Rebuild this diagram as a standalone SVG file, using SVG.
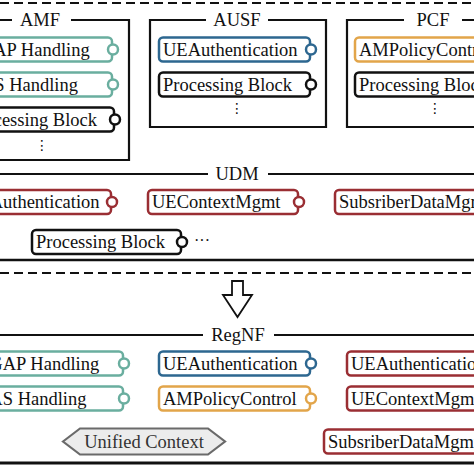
<svg xmlns="http://www.w3.org/2000/svg" width="474" height="474" viewBox="0 0 474 474">
<style>
  .t{font-family:"Liberation Serif","Times New Roman",serif;font-size:18.5px;fill:#111}
  .lbl{font-family:"Liberation Serif","Times New Roman",serif;font-size:18.5px;fill:#111;text-anchor:middle}
  .dots{font-family:"DejaVu Serif","DejaVu Sans",serif;font-size:14px;fill:#111;text-anchor:middle}
  .frame{fill:none;stroke:#111;stroke-width:2.2}
  .dash{fill:none;stroke:#111;stroke-width:2.2;stroke-dasharray:9 5}
  .pill rect{fill:#fff;stroke-width:2.5}
  .pill circle{fill:#fff;stroke-width:2.5}
  .teal rect,.teal circle{stroke:#6aae9f}
  .blue rect,.blue circle{stroke:#2d6790}
  .orange rect,.orange circle{stroke:#e2a54a}
  .red rect,.red circle{stroke:#9a2e33}
  .black rect,.black circle{stroke:#111}
</style>

<g id="frames">
  <line class="dash" x1="0" y1="3" x2="474" y2="3"/>
  <line class="dash" x1="0" y1="273" x2="474" y2="273"/>
  <path class="frame" d="M12,20 H-10 V160 H129 V20 H71"/>
  <path class="frame" d="M206,20 H150 V127 H326 V20 H268"/>
  <path class="frame" d="M404,20 H347 V127 H490 M462,20 H490"/>
  <path class="frame" d="M0,174 H208 M268,174 H474"/>
  <line class="frame" x1="0" y1="260" x2="474" y2="260" style="stroke-width:2.6"/>
  <path class="frame" d="M0,335 H203 M274,335 H474"/>
  <line class="frame" x1="0" y1="463" x2="474" y2="463" style="stroke-width:3"/>
</g>

<g id="labels">
  <text class="lbl" x="40" y="26">AMF</text>
  <text class="lbl" x="237" y="26">AUSF</text>
  <text class="lbl" x="433" y="26">PCF</text>
  <text class="lbl" x="237" y="180">UDM</text>
  <text class="lbl" x="238" y="341">RegNF</text>
</g>

<g id="amf-ngap" class="pill teal"><rect x="-37" y="37.5" width="149" height="24" rx="4"/><circle cx="113" cy="49.5" r="5"/><text class="t" x="-33.5" y="55.5">NGAP Handling</text></g>
<g id="amf-nas" class="pill teal"><rect x="-37" y="72.5" width="149" height="24" rx="4"/><circle cx="113" cy="84.5" r="5"/><text class="t" x="-32.5" y="90.5">NAS Handling</text></g>
<g id="amf-proc" class="pill black"><rect x="-37" y="107.5" width="151" height="24" rx="4"/><circle cx="115" cy="119.5" r="5"/><text class="t" x="-32" y="125.5">Processing Block</text></g>
<g id="amf-dots"><text class="dots" x="42" y="150">⋮</text></g>

<g id="ausf-ueauth" class="pill blue"><rect x="159" y="37.5" width="151" height="24" rx="4"/><circle cx="311" cy="49.5" r="5"/><text class="t" x="163" y="55.5">UEAuthentication</text></g>
<g id="ausf-proc" class="pill black"><rect x="159" y="72.5" width="151" height="24" rx="4"/><circle cx="311" cy="84.5" r="5"/><text class="t" x="163" y="90.5">Processing Block</text></g>
<g id="ausf-dots"><text class="dots" x="237" y="113">⋮</text></g>

<g id="pcf-ampolicy" class="pill orange"><rect x="355" y="37.5" width="160" height="24" rx="4"/><text class="t" x="359" y="55.5">AMPolicyControl</text></g>
<g id="pcf-proc" class="pill black"><rect x="355" y="72.5" width="160" height="24" rx="4"/><text class="t" x="359" y="90.5">Processing Block</text></g>
<g id="pcf-dots"><text class="dots" x="435" y="113">⋮</text></g>

<g id="udm-ueauth" class="pill red"><rect x="-39" y="190" width="150" height="24" rx="4"/><circle cx="112" cy="202" r="5"/><text class="t" x="-35" y="208">UEAuthentication</text></g>
<g id="udm-uectx" class="pill red"><rect x="148" y="190" width="150" height="24" rx="4"/><circle cx="299" cy="202" r="5"/><text class="t" x="152" y="208">UEContextMgmt</text></g>
<g id="udm-subdata" class="pill red"><rect x="335" y="190" width="180" height="24" rx="4"/><text class="t" x="339" y="208">SubsriberDataMgmt</text></g>
<g id="udm-proc" class="pill black"><rect x="32" y="230" width="149" height="24" rx="4"/><circle cx="182" cy="242" r="5"/><text class="t" x="36" y="248">Processing Block</text></g>
<g id="udm-more"><text class="t" x="194" y="246" style="font-size:16px">···</text></g>

<g id="arrow"><polygon points="232,281 243,281 243,295 252,295 237.5,317 223,295 232,295" fill="#fff" stroke="#111" stroke-width="1.8" stroke-linejoin="miter"/></g>

<g id="reg-ngap" class="pill teal"><rect x="-28" y="351.5" width="151" height="24" rx="4"/><circle cx="124" cy="363.5" r="5"/><text class="t" x="-24" y="369.5">NGAP Handling</text></g>
<g id="reg-nas" class="pill teal"><rect x="-28" y="386.5" width="151" height="24" rx="4"/><circle cx="124" cy="398.5" r="5"/><text class="t" x="-24" y="404.5">NAS Handling</text></g>
<g id="reg-ueauth-blue" class="pill blue"><rect x="159" y="351.5" width="151" height="24" rx="4"/><circle cx="311" cy="363.5" r="5"/><text class="t" x="163" y="369.5">UEAuthentication</text></g>
<g id="reg-ampolicy" class="pill orange"><rect x="159" y="386.5" width="151" height="24" rx="4"/><circle cx="311" cy="398.5" r="5"/><text class="t" x="163" y="404.5">AMPolicyControl</text></g>
<g id="reg-ueauth-red" class="pill red"><rect x="347" y="351.5" width="170" height="24" rx="4"/><text class="t" x="351" y="369.5">UEAuthentication</text></g>
<g id="reg-uectx" class="pill red"><rect x="347" y="386.5" width="170" height="24" rx="4"/><text class="t" x="351" y="404.5">UEContextMgmt</text></g>
<g id="reg-subdata" class="pill red"><rect x="324" y="429.5" width="190" height="24" rx="4"/><text class="t" x="328" y="447.5">SubsriberDataMgmt</text></g>
<g id="reg-context"><polygon points="63,441.5 80,428.5 208,428.5 225,441.5 208,454.5 80,454.5" fill="#ececec" stroke="#6a6a6a" stroke-width="2.2"/><text class="lbl" x="144" y="447.5" style="fill:#333">Unified Context</text></g>
</svg>
